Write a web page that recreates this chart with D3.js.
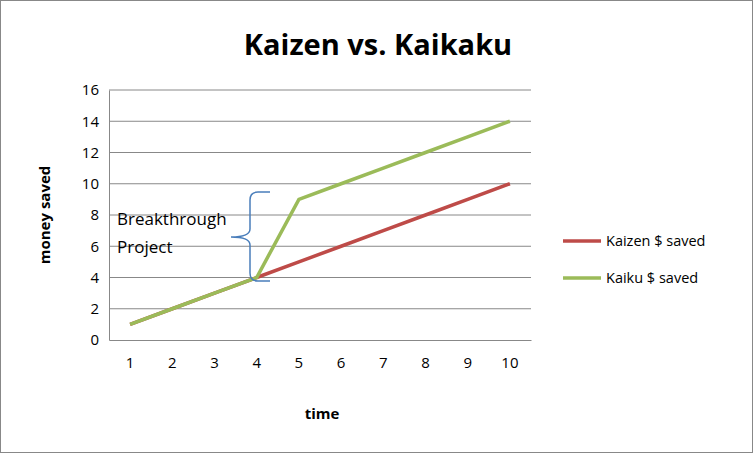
<!DOCTYPE html>
<html><head><meta charset="utf-8">
<script src="https://cdn.jsdelivr.net/npm/d3@7"></script>
<style>body{margin:0;background:#fff}</style>
</head><body><div id="chart"></div>
<script>
// Chart data
const times = [1, 2, 3, 4, 5, 6, 7, 8, 9, 10];
const kaizen = [1, 2, 3, 4, 5, 6, 7, 8, 9, 10];
const kaiku = [1, 2, 3, 4, 9, 10, 11, 12, 13, 14];
const yTicks = [0, 2, 4, 6, 8, 10, 12, 14, 16];
const seriesNames = ['Kaizen $ saved', 'Kaiku $ saved'];
const colors = ['#be4b48', '#9bbb59'];

const width = 754, height = 454;
const font = 'Open Sans, sans-serif';

const svg = d3.select('#chart').append('svg')
    .attr('width', width).attr('height', height);

svg.append('rect').attr('x', 0.5).attr('y', 0.5)
    .attr('width', width - 2).attr('height', height - 2)
    .attr('fill', '#fff').attr('stroke', '#888');

const x = d3.scaleBand().domain(times).range([109, 531]);
const y = d3.scaleLinear().domain([0, 16]).range([340, 90]);

// Gridlines
svg.selectAll('line.grid').data(yTicks.slice(1)).enter().append('line')
    .attr('x1', 109).attr('x2', 531)
    .attr('y1', d => y(d)).attr('y2', d => y(d))
    .attr('stroke', '#888').attr('stroke-width', 1);

// Axes
const yAxis = svg.append('g').attr('transform', 'translate(109,0)')
    .call(d3.axisLeft(y).tickValues(yTicks).tickSizeInner(0).tickSizeOuter(0).tickPadding(10));
const xAxis = svg.append('g').attr('transform', 'translate(0,340)')
    .call(d3.axisBottom(x).tickSize(0).tickPadding(17));
[yAxis, xAxis].forEach(a => {
  a.select('.domain').attr('stroke', '#888');
  a.selectAll('.tick line').remove();
  a.selectAll('text').attr('font-family', font).attr('font-size', 15).attr('fill', '#000');
});

// Lines
const line = d3.line().x((d, i) => x(times[i]) + x.bandwidth() / 2).y(d => y(d));
[kaizen, kaiku].forEach((s, i) => {
  svg.append('path').datum(s).attr('d', line)
    .attr('fill', 'none').attr('stroke', colors[i]).attr('stroke-width', 3.5);
});

// Title and axis labels
svg.append('text').attr('x', 378).attr('y', 55).attr('text-anchor', 'middle')
    .attr('font-family', font).attr('font-weight', 'bold').attr('font-size', 29)
    .text('Kaizen vs. Kaikaku');
svg.append('text').attr('transform', 'translate(50,215) rotate(-90)')
    .attr('text-anchor', 'middle').attr('font-family', font).attr('font-weight', 'bold')
    .attr('font-size', 15).text('money  saved');
svg.append('text').attr('x', 322).attr('y', 419).attr('text-anchor', 'middle')
    .attr('font-family', font).attr('font-weight', 'bold').attr('font-size', 15).text('time');

// Legend
seriesNames.forEach((n, i) => {
  const ly = 241 + i * 37;
  svg.append('line').attr('x1', 563).attr('x2', 601).attr('y1', ly).attr('y2', ly)
      .attr('stroke', colors[i]).attr('stroke-width', 3.5);
  svg.append('text').attr('x', 606).attr('y', ly + 5).attr('font-family', font)
      .attr('font-size', 14.5).text(n);
});

// Annotation brace
svg.append('path')
    .attr('d', 'M270,192 L258,192 Q250,192 250,200 L250,229 Q250,237 231,237 Q250,237 250,245 L250,273 Q250,281 258,281 L270,281')
    .attr('fill', 'none').attr('stroke', '#4a7ebb').attr('stroke-width', 1.5);
svg.append('text').attr('x', 117).attr('y', 225).attr('font-family', font)
    .attr('font-size', 17).text('Breakthrough');
svg.append('text').attr('x', 117).attr('y', 253).attr('font-family', font)
    .attr('font-size', 17).text('Project');
</script></body></html>
